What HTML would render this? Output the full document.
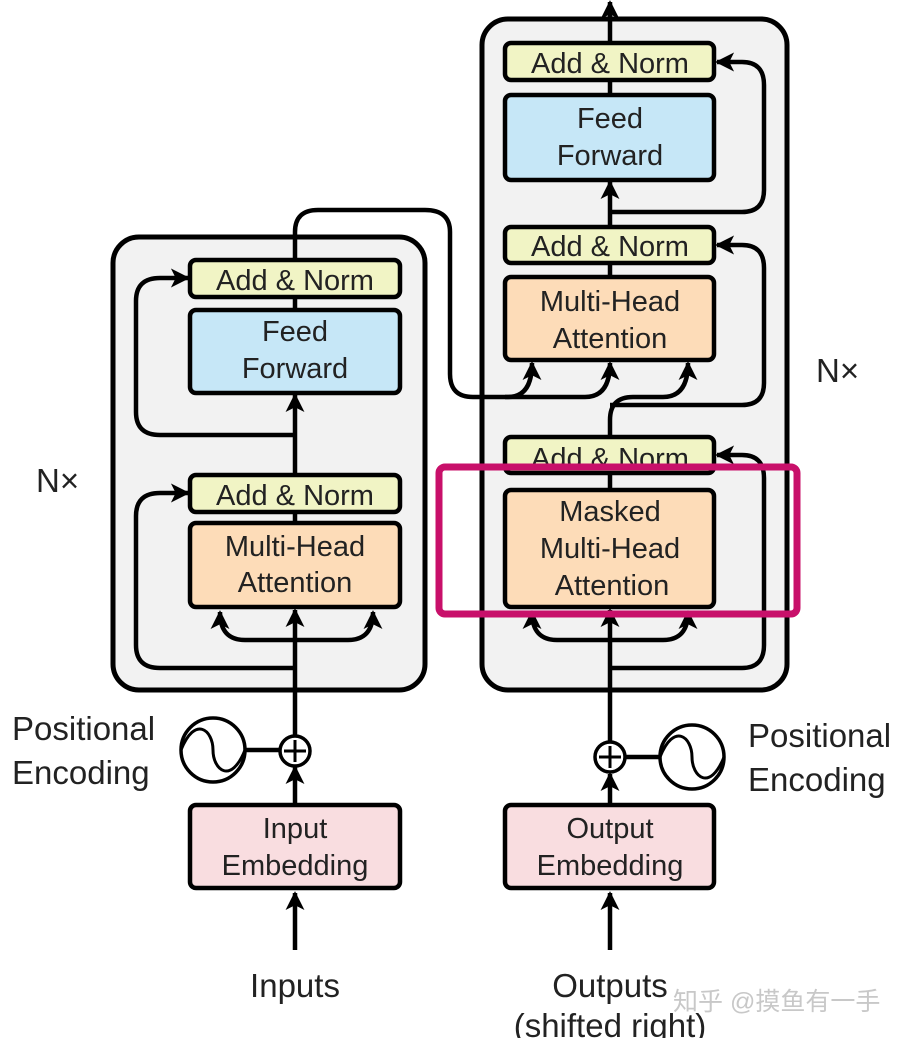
<!DOCTYPE html>
<html><head><meta charset="utf-8"><style>
html,body{margin:0;padding:0;background:#fff;}
svg{display:block;}
text{font-family:"Liberation Sans","Noto Sans CJK SC",sans-serif;fill:#222;}
</style></head><body>
<svg width="916" height="1038" viewBox="0 0 916 1038" xmlns="http://www.w3.org/2000/svg">
<defs>
<marker id="a" viewBox="0 0 10 10" refX="9" refY="5" markerWidth="4.2" markerHeight="4.2" orient="auto" markerUnits="strokeWidth">
<path d="M10 5 L0 0 L2.5 5 L0 10 Z" fill="#000"/>
</marker>
</defs>
<g fill="none" stroke="#000" stroke-width="5" stroke-linejoin="round">
<rect x="113" y="237" width="312" height="453" rx="26" fill="#f2f2f2"/>
<rect x="482" y="19" width="305" height="671" rx="26" fill="#f2f2f2"/>
</g>
<g fill="none" stroke="#000" stroke-width="4.5">
<path d="M295 950 L295 893" marker-end="url(#a)"/>
<path d="M295 805 L295 767" marker-end="url(#a)"/>
<path d="M295 736 L295 610" marker-end="url(#a)"/>
<path d="M295 640 L245 640 Q220 640 220 612" marker-end="url(#a)"/>
<path d="M295 640 L348 640 Q373 640 373 612" marker-end="url(#a)"/>
<path d="M295 668 L160 668 Q136 668 136 645 L136 516 Q136 493 160 493 L188 493" marker-end="url(#a)"/>
<path d="M295 523 L295 512"/>
<path d="M295 475 L295 395" marker-end="url(#a)"/>
<path d="M295 435 L160 435 Q136 435 136 412 L136 301 Q136 278 160 278 L188 278" marker-end="url(#a)"/>
<path d="M295 310 L295 297"/>
<path d="M295 260 L295 232 Q295 210 318 210 L425 210 Q450 210 450 232 L450 374 Q450 397 473 397 L508 397 Q532 397 532 363" marker-end="url(#a)"/>
<path d="M505 397 L585 397 Q610 397 610 363" marker-end="url(#a)"/>
<path d="M610 950 L610 893" marker-end="url(#a)"/>
<path d="M610 805 L610 774" marker-end="url(#a)"/>
<path d="M610 743 L610 610" marker-end="url(#a)"/>
<path d="M610 640 L557 640 Q532 640 532 612" marker-end="url(#a)"/>
<path d="M610 640 L663 640 Q688 640 688 612" marker-end="url(#a)"/>
<path d="M610 668 L742 668 Q764 668 764 645 L764 478 Q764 455 742 455 L717 455" marker-end="url(#a)"/>
<path d="M610 490 L610 473"/>
<path d="M610 437 L610 420 Q610 397 633 397 L663 397 Q688 397 688 363" marker-end="url(#a)"/>
<path d="M610 405 L742 405 Q764 405 764 383 L764 268 Q764 245 742 245 L717 245" marker-end="url(#a)"/>
<path d="M610 277 L610 263"/>
<path d="M610 227 L610 182" marker-end="url(#a)"/>
<path d="M610 212 L742 212 Q764 212 764 190 L764 85 Q764 62 742 62 L717 62" marker-end="url(#a)"/>
<path d="M610 95 L610 80"/>
<path d="M610 43 L610 2" marker-end="url(#a)"/>
<path d="M245 750 L281 750"/>
<path d="M624 757 L660 757"/>
</g>
<g stroke="#000" stroke-width="4.5">
<rect x="190" y="260" width="210" height="37" rx="6" fill="#f1f4c5"/>
<rect x="190" y="310" width="210" height="83" rx="6" fill="#c6e7f7"/>
<rect x="190" y="475" width="210" height="37" rx="6" fill="#f1f4c5"/>
<rect x="190" y="523" width="210" height="84" rx="6" fill="#fddcb8"/>
<rect x="505" y="43" width="209" height="37" rx="6" fill="#f1f4c5"/>
<rect x="505" y="95" width="209" height="85" rx="6" fill="#c6e7f7"/>
<rect x="505" y="227" width="209" height="36" rx="6" fill="#f1f4c5"/>
<rect x="505" y="277" width="209" height="83" rx="6" fill="#fddcb8"/>
<rect x="505" y="437" width="209" height="36" rx="6" fill="#f1f4c5"/>
<rect x="505" y="490" width="209" height="117" rx="6" fill="#fddcb8"/>
<rect x="190" y="805" width="210" height="83" rx="6" fill="#f9dde0"/>
<rect x="505" y="805" width="209" height="83" rx="6" fill="#f9dde0"/>
</g>
<g fill="#fff" stroke="#000" stroke-width="3.5">
<circle cx="213" cy="750" r="32"/>
<circle cx="692" cy="757" r="32"/>
<circle cx="295" cy="751" r="15"/>
<circle cx="610" cy="757" r="15"/>
</g>
<g fill="none" stroke="#000" stroke-width="3">
<path d="M181 750 C195 715 213 730 213 750 C213 770 231 785 245 750"/>
<path d="M660 757 C674 722 692 737 692 757 C692 777 710 792 724 757"/>
<path d="M284 751 L306 751 M295 740 L295 762"/>
<path d="M599 757 L621 757 M610 746 L610 768"/>
</g>
<g font-size="29" text-anchor="middle">
<text x="295" y="290">Add &amp; Norm</text>
<text x="295" y="341">Feed</text>
<text x="295" y="378">Forward</text>
<text x="295" y="505">Add &amp; Norm</text>
<text x="295" y="556">Multi-Head</text>
<text x="295" y="592">Attention</text>
<text x="610" y="73">Add &amp; Norm</text>
<text x="610" y="128">Feed</text>
<text x="610" y="165">Forward</text>
<text x="610" y="256">Add &amp; Norm</text>
<text x="610" y="311">Multi-Head</text>
<text x="610" y="348">Attention</text>
<text x="610" y="468">Add &amp; Norm</text>
<text x="610" y="521">Masked</text>
<text x="610" y="558">Multi-Head</text>
<text x="612" y="595">Attention</text>
<text x="295" y="838">Input</text>
<text x="295" y="875">Embedding</text>
<text x="610" y="838">Output</text>
<text x="610" y="875">Embedding</text>
</g>
<rect x="439" y="467" width="358" height="147" rx="6" fill="none" stroke="#c8106a" stroke-width="7"/>
<g font-size="33">
<text x="12" y="740">Positional</text>
<text x="12" y="784">Encoding</text>
<text x="748" y="747">Positional</text>
<text x="748" y="791">Encoding</text>
<text x="295" y="997" text-anchor="middle">Inputs</text>
<text x="610" y="997" text-anchor="middle">Outputs</text>
<text x="610" y="1037" text-anchor="middle">(shifted right)</text>
<text x="36" y="492">N×</text>
<text x="816" y="382">N×</text>
</g>
<text x="673" y="1010" font-size="25" style="fill:#c8c8c8">知乎 @摸鱼有一手</text>
</svg>
</body></html>
